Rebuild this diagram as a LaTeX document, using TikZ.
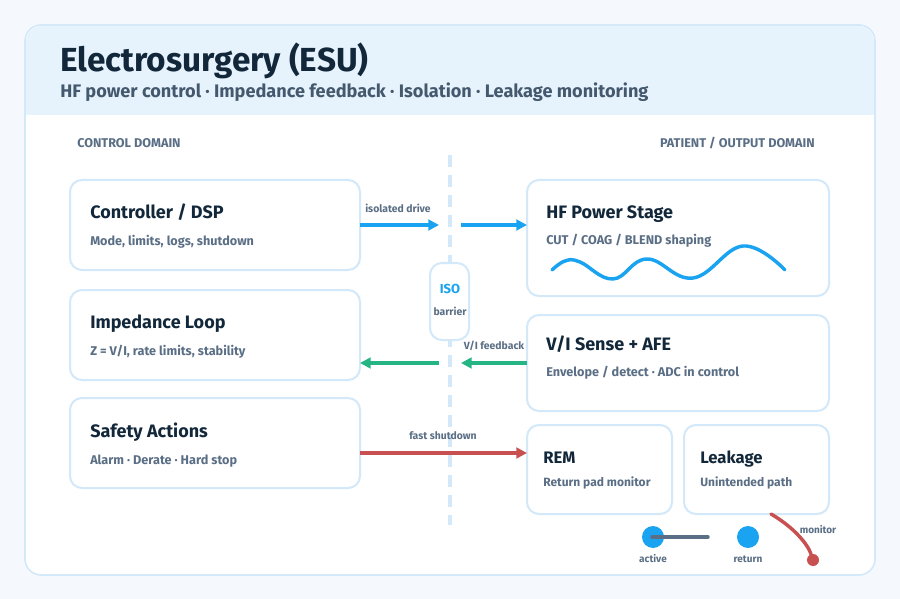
\documentclass[tikz,border=0pt]{standalone}
\usepackage{fontspec}
\setmainfont{Fira Sans}
\usetikzlibrary{arrows.meta}
\definecolor{bg}{HTML}{F5F9FE}
\definecolor{hdr}{HTML}{E6F3FD}
\definecolor{bd}{HTML}{D3E8F8}
\definecolor{ink}{HTML}{12283A}
\definecolor{sub}{HTML}{5A6E85}
\definecolor{blu}{HTML}{1AA3F0}
\definecolor{grn}{HTML}{25B585}
\definecolor{rd}{HTML}{C85050}
\begin{document}
\begin{tikzpicture}[x=0.75pt,y=-0.75pt,inner sep=0pt,
  box/.style={draw=bd,line width=1.5pt,rounded corners=9pt,fill=white},
  ttl/.style={anchor=base west,text=ink,font=\bfseries\fontsize{13.5}{16}\selectfont},
  dsc/.style={anchor=base west,text=sub,font=\bfseries\fontsize{9.5}{12}\selectfont},
  lbl/.style={text=sub,font=\bfseries\fontsize{7.8}{10}\selectfont},
  arr/.style={line width=2.6pt,-{Triangle[length=8pt,width=8pt]}}]
\useasboundingbox (0,0) rectangle (900,599);
\fill[bg] (0,0) rectangle (900,599);
\draw[bd,line width=1.2pt,fill=white,rounded corners=12pt] (25,25) rectangle (875,575);
\fill[hdr,rounded corners=12pt] (26,26) rectangle (874,115);
\fill[hdr] (26,80) rectangle (874,115);
\node[anchor=base west,text=ink,font=\bfseries\fontsize{25}{30}\selectfont] (title) at (60,72) {Electrosurgery (ESU)};
\node[anchor=base west,text=sub!70!ink,font=\bfseries\fontsize{13.6}{16}\selectfont] (subt) at (60,98) {HF power control · Impedance feedback · Isolation · Leakage monitoring};
\node[anchor=base west,lbl,font=\bfseries\fontsize{9.5}{12}\selectfont] (cd) at (77,148) {CONTROL DOMAIN};
\node[anchor=base east,lbl,font=\bfseries\fontsize{9.5}{12}\selectfont] (pd) at (815,148) {PATIENT / OUTPUT DOMAIN};
% barrier
\draw[bd,line width=2.4pt,dash pattern=on 9pt off 6pt] (450,155) -- (450,525);
\draw[box,fill=white] (430,263) rectangle (469,340);
\node[text=blu,font=\bfseries\fontsize{9.8}{12}\selectfont] (iso) at (450,289) {ISO};
\node[lbl] (bar) at (450,311) {barrier};
% boxes
\draw[box] (70,180) rectangle (360,270);
\node[ttl] at (90,219) {Controller / DSP}; \node[dsc] at (90,246) {Mode, limits, logs, shutdown};
\draw[box] (70,290) rectangle (360,380);
\node[ttl] at (90,328) {Impedance Loop}; \node[dsc] at (90,355) {Z = V/I, rate limits, stability};
\draw[box] (70,398) rectangle (360,488);
\node[ttl] at (90,437) {Safety Actions}; \node[dsc] at (90,464) {Alarm · Derate · Hard stop};
\draw[box] (527,180) rectangle (829,296);
\node[ttl] at (546,219) {HF Power Stage}; \node[dsc] at (546,245) {CUT / COAG / BLEND shaping};
\draw[box] (527,315) rectangle (829,411);
\node[ttl] at (546,350) {V/I Sense + AFE}; \node[dsc] at (546,376) {Envelope / detect · ADC in control};
\draw[box] (527,425) rectangle (672,514);
\node[ttl,font=\bfseries\fontsize{12.5}{15}\selectfont] at (543,463) {REM}; \node[dsc,font=\bfseries\fontsize{9}{11}\selectfont] at (543,486) {Return pad monitor};
\draw[box] (684,425) rectangle (829,514);
\node[ttl,font=\bfseries\fontsize{12.5}{15}\selectfont] at (700,463) {Leakage}; \node[dsc,font=\bfseries\fontsize{9}{11}\selectfont] at (700,486) {Unintended path};
% coordinates
\coordinate (a1) at (360,225); \coordinate (a2) at (439,225);
\coordinate (a3) at (461,225); \coordinate (a4) at (527,225);
\coordinate (g1) at (527,363); \coordinate (g2) at (461,363);
\coordinate (g3) at (439,363); \coordinate (g4) at (360,363);
\coordinate (r1) at (360,453); \coordinate (r2) at (527,453);
\draw[arr,blu] (a1) -- (a2); \draw[arr,blu] (a3) -- (a4);
\draw[arr,grn] (g1) -- (g2); \draw[arr,grn] (g3) -- (g4);
\draw[arr,rd] (r1) -- (r2);
\node[lbl] at (398,208) {isolated drive};
\node[lbl] at (494,346) {V/I feedback};
\node[lbl] at (443,436) {fast shutdown};
% wave
\draw[blu,line width=2.6pt,line cap=round] plot[smooth,tension=0.7] coordinates {(552,270) (565,261) (580,262) (613,279) (647,259) (693,278) (743,246) (785,270)};
% electrodes
\node[circle,fill=blu,minimum size=16.5pt] (act) at (653,537) {};
\node[circle,fill=blu,minimum size=16.5pt] (ret) at (748,537) {};
\coordinate (gl) at (708,537);
\draw[sub,line width=2.6pt,line cap=round] (652,537) -- (gl);
\node[lbl,font=\bfseries\fontsize{7.5}{9}\selectfont] at (653,559) {active};
\node[lbl,font=\bfseries\fontsize{7.5}{9}\selectfont] at (748,559) {return};
\node[circle,fill=rd,minimum size=9pt] (mon) at (813,560) {};
\coordinate (ls) at (771,514);
\draw[rd,line width=2.6pt,line cap=round] (ls) .. controls (795,528) and (808,545) .. (mon);
\node[lbl,font=\bfseries\fontsize{7.5}{9}\selectfont] at (818,530) {monitor};
\end{tikzpicture}
\end{document}
